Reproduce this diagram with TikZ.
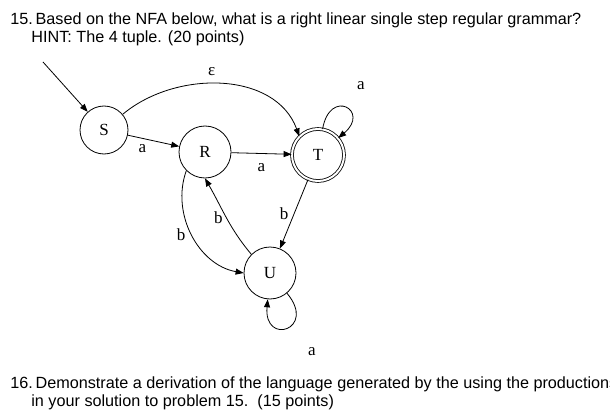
\documentclass[tikz,border=0pt]{standalone}
\usepackage{fontspec}
\setmainfont{Liberation Sans}
\newfontfamily\serifx{Liberation Serif}
\usetikzlibrary{arrows.meta}
\begin{document}
\begin{tikzpicture}[x=1pt,y=-1pt,line width=0.8pt,
  st/.style={circle,draw,minimum size=52pt,inner sep=0pt,font=\serifx\fontsize{17}{19}\selectfont},
  lb/.style={font=\serifx\fontsize{17}{19}\selectfont},
  tx/.style={anchor=west,font=\fontsize{16.2}{18}\selectfont,inner sep=0pt},
  ar/.style={-{Triangle[length=8pt,width=6pt]},black}]
\useasboundingbox (0,0) rectangle (610,417);
\node[tx] (t1) at (10,20) {15.\,Based on the NFA below, what is a right linear single step regular grammar?};
\node[tx] (t2) at (31,38) {HINT: The 4 tuple. (20 points)};
\node[tx] (t3) at (10,384) {16.\,Demonstrate a derivation of the language generated by the using the productions};
\node[tx] (t4) at (31,402) {in your solution to problem 15.\ \ (15 points)};
\node[st,minimum size=48pt] (S) at (104,130) {S};
\node[st] (R) at (205,152) {R};
\node[st,double,double distance=2pt] (T) at (318,155) {T};
\node[st] (U) at (270,273) {U};
\coordinate (in) at (43,62);
\draw[ar] (in) -- (S);
\draw[ar] (S) to[out=40,in=110] node[lb,pos=0.45,above=4pt] {ε} (T.north west);
\draw[ar] (S) -- node[lb,pos=0.45,below left=1pt] {a} (R);
\draw[ar] (R) -- node[lb,below=6pt] {a} (T);
\draw[ar] (T) to[out=80,in=40,looseness=6] (T);
\node[lb] (la) at (361,86) {a};
\draw[ar] (T) -- node[lb,pos=0.5,left=2pt] {b} (U);
\draw[ar] (R.south west) to[out=-110,in=170] node[lb,pos=0.5,left=3pt] {b} (U.west);
\draw[ar] (U.north west) to[out=130,in=-60] node[lb,pos=0.5,left=0pt] {b} (R.south);
\draw[ar] (U) to[out=-50,in=-95,looseness=6] (U);
\node[lb] (lu) at (312,352) {a};
\end{tikzpicture}
\end{document}
